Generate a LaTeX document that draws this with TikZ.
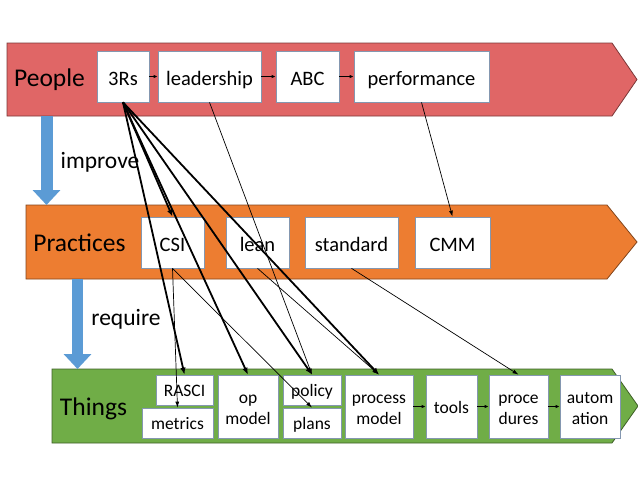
\documentclass[tikz,border=0pt]{standalone}
\usepackage{fontspec}
\setmainfont{Carlito}
\usetikzlibrary{arrows.meta,positioning}

\definecolor{peoplered}{HTML}{E06666}
\definecolor{practorange}{HTML}{ED7D31}
\definecolor{thingsgreen}{HTML}{70AD47}
\definecolor{flowblue}{HTML}{5B9BD5}
\definecolor{boxline}{HTML}{8497B0}

\begin{document}
\begin{tikzpicture}[x=1pt,y=-1pt,
  band/.style={draw=#1!55!black, line width=0.8pt, fill=#1},
  bandlabel/.style={inner sep=0pt, anchor=base, font=\fontsize{25.5}{28}\selectfont},
  flowlabel/.style={inner sep=0pt, anchor=base, font=\fontsize{23.5}{26}\selectfont},
  box/.style={draw=boxline, fill=white, line width=0.7pt, inner sep=0pt,
    minimum height=51pt, text height=17.5pt, text depth=0pt,
    font=\fontsize{20.5}{24}\selectfont},
  thing/.style={draw=boxline, fill=white, line width=0.7pt, inner sep=0pt,
    minimum height=30pt, text height=13pt, text depth=0pt, align=center,
    font=\fontsize{17.5}{21}\selectfont},
  tall/.style={thing, minimum height=63pt},
  twoline/.style={tall, text height=36pt},
  flow/.style={draw=flowblue, line width=12pt, -{Triangle[length=15pt,width=27pt]}},
  heavy/.style={line width=1.8pt, -{Latex[length=7pt,width=5.5pt]}},
  light/.style={line width=0.7pt, -{Latex[length=6pt,width=4pt]}},
  link/.style={line width=0.9pt, -{Latex[length=4pt,width=3.5pt]}}]
\useasboundingbox (0,0) rectangle (638,479);

% Bands
\path[band=peoplered] (7,43) -- (612,43) -- (637,79.5) -- (612,116) -- (7,116) -- cycle;
\path[band=practorange] (26,205) -- (607,205) -- (637,242) -- (607,279) -- (26,279) -- cycle;
\path[band=thingsgreen] (52,369) -- (612,369) -- (638,406) -- (612,443) -- (52,443) -- cycle;

\node[bandlabel] (people) at (49.5,86.7) {People};
\node[bandlabel] (practices) at (79.5,251.7) {Practices};
\node[bandlabel] (things) at (93.5,415) {Things};

% Flows between bands
\coordinate (imptop) at (46.5,116);
\coordinate (impbot) at (46.5,205);
\coordinate (reqtop) at (77.5,279);
\coordinate (reqbot) at (77.5,369);
\draw[flow] (imptop) -- (impbot);
\draw[flow, line width=11pt] (reqtop) -- (reqbot);
\node[flowlabel] (improve) at (100,168) {improve};
\node[flowlabel] (require) at (126,325) {require};

% People row
\node[box, minimum width=52pt] (r3) at (123,76.5) {3Rs};
\node[box, minimum width=103pt] (lead) at (209.5,76.5) {leadership};
\node[box, minimum width=63pt] (abc) at (307.5,76.5) {ABC};
\node[box, minimum width=135pt] (perf) at (421.5,76.5) {performance};

% Practices row
\node[box, minimum width=63pt] (csi) at (172.5,242.5) {CSI};
\node[box, minimum width=63pt] (lean) at (257.5,242.5) {lean};
\node[box, minimum width=93pt] (std) at (351.5,242.5) {standard};
\node[box, minimum width=75pt] (cmm) at (452.5,242.5) {CMM};

% Things row
\node[thing, minimum width=57pt] (rasci) at (184.5,390) {RASCI};
\node[thing, minimum width=71pt] (metrics) at (177.5,423) {metrics};
\node[twoline, minimum width=60pt] (opm) at (248,406.5) {op\\model};
\node[thing, minimum width=58pt] (policy) at (312,390) {policy};
\node[thing, minimum width=58pt] (plans) at (312,423) {plans};
\node[twoline, minimum width=68pt] (procm) at (379,406.5) {process\\model};
\node[tall, minimum width=51pt] (tools) at (451.5,406.5) {tools};
\node[twoline, minimum width=59pt] (proced) at (518.5,406.5) {proce\\dures};
\node[twoline, minimum width=60pt] (auto) at (590,406.5) {autom\\ation};

% Chains
\draw[link] (r3) -- (lead);
\draw[link] (lead) -- (abc);
\draw[link] (abc) -- (perf);
\draw[link] (procm) -- (tools);
\draw[link] (tools) -- (proced);
\draw[link] (proced) -- (auto);

% 3Rs fan
\draw[heavy] (r3.south) -- (csi.north);
\draw[heavy] (r3.south) -- (rasci.north);
\draw[heavy] (r3.south) -- (opm.north);
\draw[heavy] (r3.south) -- (policy.north);
\draw[heavy] (r3.south) -- (procm.north);

% Other links
\draw[light] (lead.south) -- (policy.north);
\draw[light] (perf.south) -- (cmm.north);
\draw[light] (csi.south) -- (metrics.north);
\draw[light] (csi.south) -- (plans.north);
\draw[light] (lean.south) -- (procm.north);
\draw[light] (std.south) -- (proced.north);

\end{tikzpicture}
\end{document}
